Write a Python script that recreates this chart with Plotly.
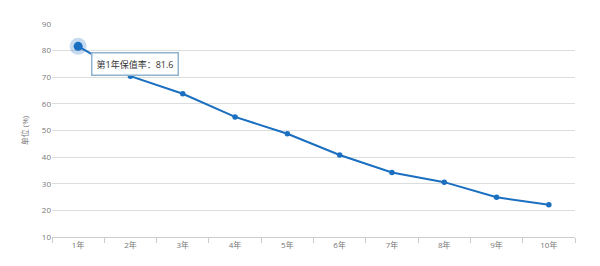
import plotly.graph_objects as go

categories = ["1年", "2年", "3年", "4年", "5年", "6年", "7年", "8年", "9年", "10年"]
values = [81.6, 70.4, 63.8, 55.1, 48.8, 40.8, 34.2, 30.6, 24.9, 22.1]
y_ticks = [10, 20, 30, 40, 50, 60, 70, 80, 90]
tooltip_text = "第1年保值率：81.6"

line_color = "#1a6fc0"
font_family = "Open Sans, Noto Sans CJK SC, sans-serif"

fig = go.Figure()
# hover halo on the first point
fig.add_trace(go.Scatter(
    x=[categories[0]], y=[values[0]], mode="markers",
    marker=dict(size=17, color="rgba(26,111,192,0.25)"),
    hoverinfo="skip", showlegend=False,
))
fig.add_trace(go.Scatter(
    x=categories, y=values, mode="lines+markers",
    line=dict(color=line_color, width=2),
    marker=dict(size=5.5, color=line_color),
    showlegend=False,
))
fig.add_trace(go.Scatter(
    x=[categories[0]], y=[values[0]], mode="markers",
    marker=dict(size=9, color=line_color),
    hoverinfo="skip", showlegend=False,
))

fig.add_annotation(
    x=categories[0], y=values[0], xref="x", yref="y",
    text=tooltip_text, showarrow=False,
    xanchor="left", yanchor="top", xshift=13, yshift=-6,
    bgcolor="rgba(255,255,255,0.95)", bordercolor="#8fb3cf", borderwidth=1.5,
    borderpad=4, font=dict(size=9, color="#333333", family=font_family),
)

fig.update_layout(
    width=600, height=266,
    margin=dict(l=52, r=25, t=24, b=29),
    paper_bgcolor="white", plot_bgcolor="white",
    font=dict(family=font_family, size=8, color="#777777"),
)
fig.update_xaxes(
    type="category", range=[-0.5, 9.5],
    tickson="boundaries", ticks="outside", ticklen=5, tickcolor="#cccccc",
    showline=True, linecolor="#cccccc", linewidth=1,
    showgrid=False, tickfont=dict(size=8, color="#777777"),
)
fig.update_yaxes(
    range=[10, 90], tickvals=y_ticks, showgrid=True, gridcolor="#dddddd",
    zeroline=False, showline=False, ticks="", ticklen=0,
    tickfont=dict(size=8, color="#777777"),
    title=dict(text="单位 (%)", font=dict(size=8, color="#777777"), standoff=12),
)

fig.write_html("out.html")
